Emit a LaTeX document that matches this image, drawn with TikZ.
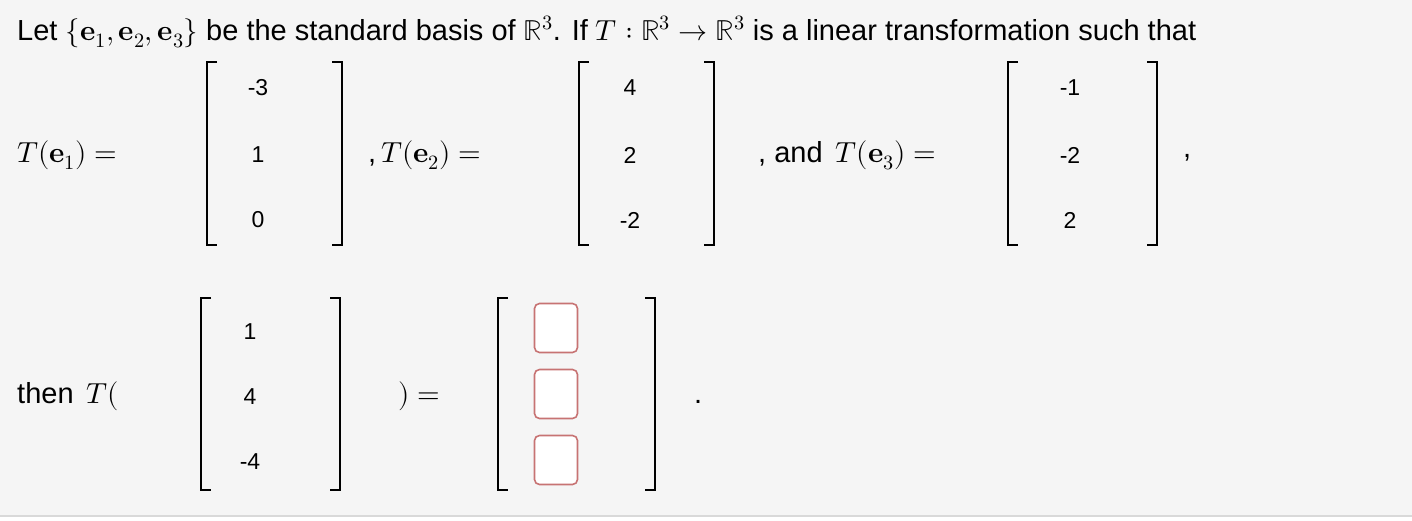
\documentclass[tikz,border=0pt]{standalone}
\usepackage{fontspec}
\setmainfont{Liberation Sans}
\usepackage{amsmath,amssymb}
\usepackage{unicode-math}
\setmathfont{Latin Modern Math}
\begin{document}
\begin{tikzpicture}[x=1pt,y=-1pt,
  txt/.style={anchor=west,inner sep=0pt,font=\fontsize{29}{34}\selectfont},
  ent/.style={inner sep=0pt,font=\fontsize{23}{28}\selectfont},
  ansbox/.style={draw=red!60!black!55,fill=white,rounded corners=5pt,line width=1.6pt,minimum width=43pt,minimum height=49pt,inner sep=0pt}]
\useasboundingbox (0,0) rectangle (1412,520);
\fill[black!4] (0,0) rectangle (1412,515);
\draw[black!15,line width=2pt] (0,516) -- (1412,516);
\newcommand\brk[4]{% left x, right x, top y, bottom y
  \draw[line width=2.2pt] (#1+10,#3) -- (#1,#3) -- (#1,#4) -- (#1+10,#4);
  \draw[line width=2.2pt] (#2-10,#3) -- (#2,#3) -- (#2,#4) -- (#2-10,#4);}
\node[txt] (l1) at (17,32) {Let $\{\symbf{e}_1,\symbf{e}_2,\symbf{e}_3\}$ be the standard basis of $\mathbb{R}^3$. If $T:\mathbb{R}^3\rightarrow\mathbb{R}^3$ is a linear transformation such that};
\node[txt] (t1) at (17,155) {$T(\symbf{e}_1)=$};
\brk{207}{342}{62}{245}
\node[ent] (a1) at (258,88) {-3};
\node[ent] (a2) at (258,155) {1};
\node[ent] (a3) at (258,220) {0};
\node[txt] (t2) at (368,155) {,$\,T(\symbf{e}_2)=$};
\brk{579}{714}{62}{245}
\node[ent] (b1) at (630,88) {4};
\node[ent] (b2) at (630,155) {2};
\node[ent] (b3) at (630,220) {-2};
\node[txt] (t3) at (758,155) {, and $\,T(\symbf{e}_3)=$};
\brk{1008}{1157}{62}{245}
\node[ent] (c1) at (1070,88) {-1};
\node[ent] (c2) at (1070,155) {-2};
\node[ent] (c3) at (1070,220) {2};
\node[txt] (cm) at (1183,158) {,};
\node[txt] (t4) at (17,396) {then $\,T($};
\brk{201}{340}{298}{490}
\node[ent] (d1) at (250,332) {1};
\node[ent] (d2) at (250,397) {4};
\node[ent] (d3) at (250,462) {-4};
\node[txt] (t5) at (398,396) {$)=$};
\brk{498}{655}{298}{490}
\node[ansbox] (x1) at (556,328) {};
\node[ansbox] (x2) at (556,394) {};
\node[ansbox] (x3) at (556,460) {};
\node[txt] (dot) at (694,402) {.};
\end{tikzpicture}
\end{document}
